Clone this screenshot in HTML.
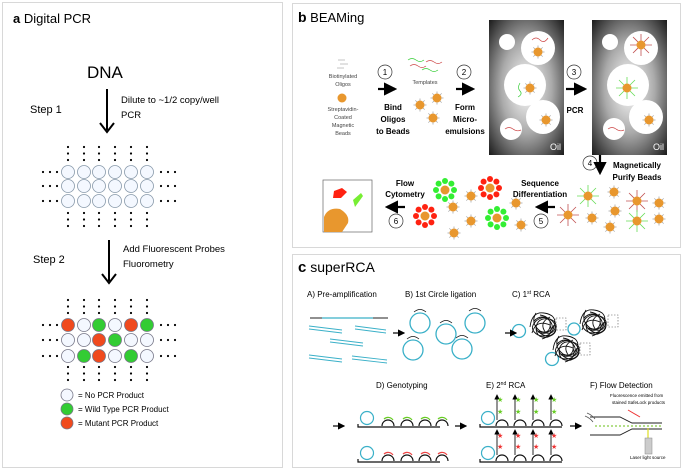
<!DOCTYPE html>
<html><head><meta charset="utf-8"><style>
html,body{margin:0;padding:0;background:#fff}
svg{display:block;font-family:"Liberation Sans",Arial,sans-serif}
</style></head><body>
<svg width="685" height="471" viewBox="0 0 685 471" xmlns="http://www.w3.org/2000/svg">
<defs>
<radialGradient id="oil" cx="0.5" cy="0.5" r="0.75">
<stop offset="0" stop-color="#fff"/><stop offset="0.45" stop-color="#aaa"/><stop offset="1" stop-color="#0a0a0a"/>
</radialGradient>
<marker id="ah" markerWidth="6" markerHeight="6" refX="5" refY="3" orient="auto"><path d="M0,0 L6,3 L0,6z" fill="#000"/></marker>
<g id="bead"><circle r="4.5" fill="#e8972e"/><g stroke="#888" stroke-width="0.6"><line x1="0" y1="-4.5" x2="0" y2="-6.5"/><line x1="0" y1="4.5" x2="0" y2="6.5"/><line x1="-4.5" y1="0" x2="-6.5" y2="0"/><line x1="4.5" y1="0" x2="6.5" y2="0"/><line x1="3.2" y1="3.2" x2="4.6" y2="4.6"/><line x1="-3.2" y1="-3.2" x2="-4.6" y2="-4.6"/><line x1="3.2" y1="-3.2" x2="4.6" y2="-4.6"/><line x1="-3.2" y1="3.2" x2="-4.6" y2="4.6"/></g></g>
<g id="rbead"><g stroke="#c05050" stroke-width="0.8"><line x1="-11" y1="0" x2="11" y2="0"/><line x1="0" y1="-11" x2="0" y2="11"/><line x1="-8" y1="-8" x2="8" y2="8"/><line x1="-8" y1="8" x2="8" y2="-8"/></g><circle r="4.5" fill="#e8972e"/></g>
<g id="gbead"><g stroke="#66dd55" stroke-width="0.8"><line x1="-11" y1="0" x2="11" y2="0"/><line x1="0" y1="-11" x2="0" y2="11"/><line x1="-8" y1="-8" x2="8" y2="8"/><line x1="-8" y1="8" x2="8" y2="-8"/></g><circle r="4.5" fill="#e8972e"/></g>
<g id="rflow"><circle cx="0" cy="-9" r="3" fill="#f21"/><circle cx="6.4" cy="-6.4" r="3" fill="#f21"/><circle cx="9" cy="0" r="3" fill="#f21"/><circle cx="6.4" cy="6.4" r="3" fill="#f21"/><circle cx="0" cy="9" r="3" fill="#f21"/><circle cx="-6.4" cy="6.4" r="3" fill="#f21"/><circle cx="-9" cy="0" r="3" fill="#f21"/><circle cx="-6.4" cy="-6.4" r="3" fill="#f21"/><circle r="4.5" fill="#e8972e"/></g>
<g id="gflow"><circle cx="0" cy="-9" r="3" fill="#3e3"/><circle cx="6.4" cy="-6.4" r="3" fill="#3e3"/><circle cx="9" cy="0" r="3" fill="#3e3"/><circle cx="6.4" cy="6.4" r="3" fill="#3e3"/><circle cx="0" cy="9" r="3" fill="#3e3"/><circle cx="-6.4" cy="6.4" r="3" fill="#3e3"/><circle cx="-9" cy="0" r="3" fill="#3e3"/><circle cx="-6.4" cy="-6.4" r="3" fill="#3e3"/><circle r="4.5" fill="#e8972e"/></g>
<g id="dcol" fill="#000"><circle cy="0" r="1.1"/><circle cy="6.5" r="1.1"/><circle cy="13" r="1.1"/></g>
<g id="drow" fill="#000"><circle cx="0" r="1.1"/><circle cx="7" r="1.1"/><circle cx="14" r="1.1"/></g>
<g id="tangle" fill="none" stroke="#111" stroke-width="0.9">
<path d="M-14,0 q2,-16 14,-14 q14,2 10,14 q-4,12 -16,8 q-10,-6 -2,-14 q10,-8 18,2 q6,10 -6,14 q-12,2 -12,-10 q2,-10 14,-8 q10,4 4,14 q-6,6 -14,0"/>
<path d="M-10,-6 q8,-8 16,0 q6,8 -4,12 q-10,2 -10,-8 M-4,-12 q12,2 10,12 q-2,8 -12,4 M-12,6 q4,-14 18,-8 q4,10 -8,14"/>
<path d="M-8,-14 q-6,10 4,18 q10,4 14,-6 M6,-10 q-12,6 -4,16 q8,2 10,-8"/>
</g>
</defs>

<!-- Panel borders -->
<rect x="2.5" y="2.5" width="280" height="465" fill="#fff" stroke="#d8d8d8"/>
<rect x="292.5" y="3.5" width="388" height="244" fill="#fff" stroke="#d8d8d8"/>
<rect x="292.5" y="254.5" width="388" height="213" fill="#fff" stroke="#d8d8d8"/>

<!-- Panel a -->
<text x="13" y="23" font-size="13"><tspan font-weight="bold">a</tspan> Digital PCR</text>
<text x="87" y="78" font-size="17">DNA</text>
<text x="30" y="113" font-size="11">Step 1</text>
<text x="121" y="103" font-size="9.5">Dilute to ~1/2 copy/well</text>
<text x="121" y="118" font-size="9.5">PCR</text>
<line x1="107" y1="89" x2="107" y2="130" stroke="#000" stroke-width="2"/>
<path d="M100,123 L107,132 L114,123" fill="none" stroke="#000" stroke-width="2"/>
<g>
<use href="#dcol" x="68" y="147"/><use href="#dcol" x="84" y="147"/><use href="#dcol" x="99" y="147"/><use href="#dcol" x="115" y="147"/><use href="#dcol" x="131" y="147"/><use href="#dcol" x="147" y="147"/>
<use href="#dcol" x="68" y="213"/><use href="#dcol" x="84" y="213"/><use href="#dcol" x="99" y="213"/><use href="#dcol" x="115" y="213"/><use href="#dcol" x="131" y="213"/><use href="#dcol" x="147" y="213"/>
<use href="#drow" x="43" y="172"/><use href="#drow" x="43" y="186"/><use href="#drow" x="43" y="201"/>
<use href="#drow" x="161" y="172"/><use href="#drow" x="161" y="186"/><use href="#drow" x="161" y="201"/>
<g fill="#f4f8ff" stroke="#8899aa" stroke-width="0.8">
<circle cx="68" cy="172" r="6.5"/><circle cx="84" cy="172" r="6.5"/><circle cx="99" cy="172" r="6.5"/><circle cx="115" cy="172" r="6.5"/><circle cx="131" cy="172" r="6.5"/><circle cx="147" cy="172" r="6.5"/>
<circle cx="68" cy="186" r="6.5"/><circle cx="84" cy="186" r="6.5"/><circle cx="99" cy="186" r="6.5"/><circle cx="115" cy="186" r="6.5"/><circle cx="131" cy="186" r="6.5"/><circle cx="147" cy="186" r="6.5"/>
<circle cx="68" cy="201" r="6.5"/><circle cx="84" cy="201" r="6.5"/><circle cx="99" cy="201" r="6.5"/><circle cx="115" cy="201" r="6.5"/><circle cx="131" cy="201" r="6.5"/><circle cx="147" cy="201" r="6.5"/>
</g></g>
<text x="33" y="263" font-size="11">Step 2</text>
<text x="123" y="252" font-size="9.5">Add Fluorescent Probes</text>
<text x="123" y="267" font-size="9.5">Fluorometry</text>
<line x1="109" y1="240" x2="109" y2="281" stroke="#000" stroke-width="2"/>
<path d="M102,274 L109,283 L116,274" fill="none" stroke="#000" stroke-width="2"/>
<g>
<use href="#dcol" x="68" y="300"/><use href="#dcol" x="84" y="300"/><use href="#dcol" x="99" y="300"/><use href="#dcol" x="115" y="300"/><use href="#dcol" x="131" y="300"/><use href="#dcol" x="147" y="300"/>
<use href="#dcol" x="68" y="367"/><use href="#dcol" x="84" y="367"/><use href="#dcol" x="99" y="367"/><use href="#dcol" x="115" y="367"/><use href="#dcol" x="131" y="367"/><use href="#dcol" x="147" y="367"/>
<use href="#drow" x="43" y="325"/><use href="#drow" x="43" y="340"/><use href="#drow" x="43" y="356"/>
<use href="#drow" x="161" y="325"/><use href="#drow" x="161" y="340"/><use href="#drow" x="161" y="356"/>
<g stroke="#778" stroke-width="0.8">
<circle cx="68" cy="325" r="6.5" fill="#f04a1e"/><circle cx="84" cy="325" r="6.5" fill="#f4f8ff"/><circle cx="99" cy="325" r="6.5" fill="#3c3"/><circle cx="115" cy="325" r="6.5" fill="#f4f8ff"/><circle cx="131" cy="325" r="6.5" fill="#f04a1e"/><circle cx="147" cy="325" r="6.5" fill="#3c3"/>
<circle cx="68" cy="340" r="6.5" fill="#f4f8ff"/><circle cx="84" cy="340" r="6.5" fill="#f4f8ff"/><circle cx="99" cy="340" r="6.5" fill="#f04a1e"/><circle cx="115" cy="340" r="6.5" fill="#3c3"/><circle cx="131" cy="340" r="6.5" fill="#f4f8ff"/><circle cx="147" cy="340" r="6.5" fill="#f4f8ff"/>
<circle cx="68" cy="356" r="6.5" fill="#f4f8ff"/><circle cx="84" cy="356" r="6.5" fill="#3c3"/><circle cx="99" cy="356" r="6.5" fill="#f04a1e"/><circle cx="115" cy="356" r="6.5" fill="#f4f8ff"/><circle cx="131" cy="356" r="6.5" fill="#3c3"/><circle cx="147" cy="356" r="6.5" fill="#f4f8ff"/>
<circle cx="67" cy="395" r="6" fill="#f4f8ff"/><circle cx="67" cy="409" r="6" fill="#3c3"/><circle cx="67" cy="423" r="6" fill="#f04a1e"/>
</g></g>
<text x="78" y="398" font-size="8">= No PCR Product</text>
<text x="78" y="412" font-size="8">= Wild Type PCR Product</text>
<text x="78" y="426" font-size="8">= Mutant PCR Product</text>

<!-- Panel b -->
<text x="298" y="22" font-size="13"><tspan font-weight="bold" font-size="14">b</tspan> BEAMing</text>
<rect x="489" y="20" width="75" height="135" fill="url(#oil)"/>
<rect x="592" y="20" width="75" height="135" fill="url(#oil)"/>
<g fill="#fff">
<circle cx="507" cy="42" r="8"/><circle cx="538" cy="48" r="17"/><circle cx="525" cy="85" r="21"/><circle cx="543" cy="117" r="17"/><circle cx="511" cy="129" r="11"/>
<circle cx="610" cy="42" r="8"/><circle cx="641" cy="48" r="17"/><circle cx="628" cy="85" r="21"/><circle cx="646" cy="117" r="17"/><circle cx="614" cy="129" r="11"/>
</g>
<text x="550" y="150" font-size="9" fill="#fff">Oil</text>
<text x="653" y="150" font-size="9" fill="#fff">Oil</text>
<use href="#bead" x="538" y="52"/><use href="#bead" x="530" y="88"/><use href="#bead" x="546" y="120"/>
<path d="M532,40 q4,-4 8,0 t8,-2" stroke="#c44" fill="none" stroke-width="0.7"/>
<path d="M520,83 q-3,5 0,8 t-2,6" stroke="#3c3" fill="none" stroke-width="0.7"/>
<path d="M505,129 q4,-3 8,0 t8,1" stroke="#c44" fill="none" stroke-width="0.7"/>
<use href="#rbead" x="641" y="45"/><use href="#gbead" x="627" y="88"/><use href="#bead" x="649" y="120"/>
<path d="M608,129 q4,-3 8,0 t8,1" stroke="#c44" fill="none" stroke-width="0.7"/>
<g font-size="5.5" fill="#444" text-anchor="middle">
<text x="343" y="78">Biotinylated</text><text x="343" y="86">Oligos</text>
<text x="343" y="111">Streptavidin-</text><text x="343" y="119">Coated</text><text x="343" y="127">Magnetic</text><text x="343" y="135">Beads</text>
<text x="425" y="84">Templates</text>
</g>
<g stroke="#888" stroke-width="0.5"><line x1="338" y1="60" x2="345" y2="60"/><line x1="340" y1="64" x2="348" y2="64"/><line x1="337" y1="68" x2="344" y2="68"/></g>
<circle cx="342" cy="98" r="4.5" fill="#e8972e"/>
<g fill="none" stroke-width="0.7">
<path d="M408,60 q4,-3 8,0 t8,0" stroke="#3c3"/><path d="M426,62 q4,-3 8,0 t8,0" stroke="#c44"/>
<path d="M410,66 q4,-3 8,0 t8,0" stroke="#c44"/><path d="M422,70 q4,-3 8,0 t8,0" stroke="#3c3"/>
</g>
<use href="#bead" x="420" y="105"/><use href="#bead" x="437" y="98"/><use href="#bead" x="433" y="118"/>
<g fill="#fff" stroke="#333" stroke-width="0.7" font-size="8">
<circle cx="385" cy="72" r="7"/><circle cx="464" cy="72" r="7"/><circle cx="574" cy="72" r="7"/><circle cx="590" cy="163" r="7"/><circle cx="541" cy="221" r="7"/><circle cx="396" cy="221" r="7"/>
</g>
<g font-size="8" text-anchor="middle"><text x="385" y="75">1</text><text x="464" y="75">2</text><text x="574" y="75">3</text><text x="590" y="166">4</text><text x="541" y="224">5</text><text x="396" y="224">6</text></g>
<g stroke="#000" stroke-width="2.2" marker-end="url(#ah)">
<line x1="378" y1="89" x2="395" y2="89"/><line x1="456" y1="89" x2="473" y2="89"/><line x1="566" y1="89" x2="585" y2="89"/>
<line x1="600" y1="155" x2="600" y2="173"/><line x1="555" y1="207" x2="537" y2="207"/><line x1="405" y1="207" x2="387" y2="207"/>
</g>
<g font-size="8" font-weight="bold" text-anchor="middle">
<text x="393" y="110">Bind</text><text x="393" y="122">Oligos</text><text x="393" y="134">to Beads</text>
<text x="465" y="110">Form</text><text x="465" y="122">Micro-</text><text x="465" y="134">emulsions</text>
<text x="575" y="113">PCR</text>
<text x="637" y="168">Magnetically</text><text x="637" y="180">Purify Beads</text>
<text x="540" y="186">Sequence</text><text x="540" y="197">Differentiation</text>
<text x="405" y="186">Flow</text><text x="405" y="197">Cytometry</text>
</g>
<use href="#gbead" x="588" y="196"/><use href="#bead" x="614" y="192"/><use href="#rbead" x="637" y="201"/><use href="#bead" x="659" y="203"/>
<use href="#rbead" x="568" y="215"/><use href="#bead" x="592" y="218"/><use href="#bead" x="615" y="211"/><use href="#gbead" x="637" y="221"/><use href="#bead" x="659" y="219"/><use href="#bead" x="610" y="227"/>
<use href="#gflow" x="445" y="190"/><use href="#rflow" x="490" y="188"/><use href="#bead" x="471" y="196"/><use href="#bead" x="516" y="203"/>
<use href="#rflow" x="425" y="216"/><use href="#bead" x="471" y="221"/><use href="#bead" x="453" y="207"/><use href="#gflow" x="497" y="218"/><use href="#bead" x="521" y="225"/><use href="#bead" x="454" y="233"/>
<rect x="323" y="180" width="49" height="52" fill="#fff" stroke="#666" stroke-width="0.7"/>
<path d="M334,191 l8,-3 l5,4 l-6,6 l-8,0z" fill="#f21"/>
<path d="M353,200 l8,-7 l2,3 l-8,11z" fill="#7e3"/>
<path d="M324,217 q4,-10 16,-8 q10,6 8,14 l-6,9 l-18,0z" fill="#e8972e"/>

<!-- Panel c -->
<text x="298" y="272" font-size="14"><tspan font-weight="bold" font-size="15">c</tspan> superRCA</text>
<g font-size="8">
<text x="307" y="297">A) Pre-amplification</text>
<text x="405" y="297">B) 1st Circle ligation</text>
<text x="512" y="297">C) 1<tspan font-size="5" dy="-3">st</tspan><tspan dy="3"> RCA</tspan></text>
<text x="376" y="388">D) Genotyping</text>
<text x="486" y="388">E) 2<tspan font-size="5" dy="-3">nd</tspan><tspan dy="3"> RCA</tspan></text>
<text x="590" y="388">F) Flow Detection</text>
</g>
<line x1="310" y1="318" x2="388" y2="318" stroke="#222" stroke-width="1"/>
<line x1="322" y1="318" x2="373" y2="318" stroke="#3ab0c8" stroke-width="1.3"/>
<g stroke="#3ab0c8" stroke-width="0.9" fill="none">
<path d="M309,326 l33,4 M309,329 l33,4"/><path d="M355,326 l31,4 M355,329 l31,4"/><path d="M330,339 l33,4 M330,342 l33,4"/>
<path d="M309,355 l33,4 M309,358 l33,4"/><path d="M352,356 l35,4 M352,359 l35,4"/>
</g>
<g stroke="#3ab0c8" stroke-width="1.3" fill="none">
<circle cx="420" cy="323" r="10"/><circle cx="446" cy="334" r="10"/><circle cx="475" cy="323" r="10"/><circle cx="413" cy="350" r="10"/><circle cx="462" cy="349" r="10"/>
<circle cx="519" cy="331" r="6.5"/><circle cx="574" cy="329" r="6"/><circle cx="552" cy="359" r="6.5"/>
</g>
<g stroke="#111" stroke-width="0.8" fill="none">
<path d="M414,312 q6,-5 12,0 M469,311 q6,-5 12,0 M407,339 q6,-5 12,0 M456,338 q6,-5 12,0 M440,323 q6,-5 12,0"/>
</g>
<use href="#tangle" x="544" y="327"/><use href="#tangle" x="594" y="324"/><use href="#tangle" x="567" y="350"/>
<g stroke="#555" stroke-width="0.6" stroke-dasharray="1.5,1.5" fill="none">
<rect x="556" y="318" width="10" height="12"/><rect x="608" y="315" width="10" height="12"/><rect x="580" y="343" width="10" height="12"/>
</g>
<g stroke="#000" stroke-width="1.2" marker-end="url(#ah)">
<line x1="393" y1="333" x2="404" y2="333"/><line x1="505" y1="333" x2="516" y2="333"/>
<line x1="333" y1="426" x2="344" y2="426"/><line x1="455" y1="426" x2="466" y2="426"/><line x1="570" y1="426" x2="581" y2="426"/>
</g>
<g stroke="#111" stroke-width="1.2" fill="none">
<path d="M358,424 l0,3 l82,0"/><path d="M358,459 l0,3 l82,0"/>
<path d="M480,424 l0,3 l82,0"/><path d="M480,459 l0,3 l82,0"/>
</g>
<g stroke="#3ab0c8" stroke-width="1.2" fill="none">
<circle cx="367" cy="418" r="6.5"/><circle cx="367" cy="453" r="6.5"/><circle cx="488" cy="418" r="6.5"/><circle cx="488" cy="453" r="6.5"/>
</g>
<g fill="none" stroke-width="1.2">
<path d="M382,426 a6,6 0 1 1 12,0" stroke="#111"/><path d="M401,426 a6,6 0 1 1 12,0" stroke="#111"/><path d="M419,426 a6,6 0 1 1 12,0" stroke="#111"/><path d="M436,426 a6,6 0 1 1 12,0" stroke="#111"/>
<path d="M384,419 a6,6 0 0 1 9,1 M403,419 a6,6 0 0 1 9,1 M421,419 a6,6 0 0 1 9,1 M438,419 a6,6 0 0 1 9,1" stroke="#6c2"/>
<path d="M382,461 a6,6 0 1 1 12,0" stroke="#111"/><path d="M401,461 a6,6 0 1 1 12,0" stroke="#111"/><path d="M419,461 a6,6 0 1 1 12,0" stroke="#111"/><path d="M436,461 a6,6 0 1 1 12,0" stroke="#111"/>
<path d="M384,454 a6,6 0 0 1 9,1 M403,454 a6,6 0 0 1 9,1 M421,454 a6,6 0 0 1 9,1 M438,454 a6,6 0 0 1 9,1" stroke="#e44"/>
<path d="M496,426 a6,6 0 1 1 12,0 M514,426 a6,6 0 1 1 12,0 M532,426 a6,6 0 1 1 12,0 M550,426 a6,6 0 1 1 12,0" stroke="#111"/>
<path d="M496,461 a6,6 0 1 1 12,0 M514,461 a6,6 0 1 1 12,0 M532,461 a6,6 0 1 1 12,0 M550,461 a6,6 0 1 1 12,0" stroke="#111"/>
</g>
<g stroke="#111" stroke-width="0.9" marker-end="url(#ah)">
<line x1="497" y1="420" x2="497" y2="395"/><line x1="515" y1="420" x2="515" y2="395"/><line x1="533" y1="420" x2="533" y2="395"/><line x1="551" y1="420" x2="551" y2="395"/>
<line x1="497" y1="455" x2="497" y2="430"/><line x1="515" y1="455" x2="515" y2="430"/><line x1="533" y1="455" x2="533" y2="430"/><line x1="551" y1="455" x2="551" y2="430"/>
</g>
<g font-size="7" fill="#6c2"><text x="497" y="402">★</text><text x="497" y="414">★</text><text x="515" y="402">★</text><text x="515" y="414">★</text><text x="533" y="402">★</text><text x="533" y="414">★</text><text x="551" y="402">★</text><text x="551" y="414">★</text></g>
<g font-size="7" fill="#e33"><text x="497" y="438">★</text><text x="497" y="449">★</text><text x="515" y="438">★</text><text x="515" y="449">★</text><text x="533" y="438">★</text><text x="533" y="449">★</text><text x="551" y="438">★</text><text x="551" y="449">★</text></g>
<path d="M590,417 l30,0 l12,6 l30,0 M590,435 l30,0 l12,-6 l30,0" stroke="#222" fill="none" stroke-width="0.9"/>
<path d="M587,413 q5,2 8,6 M585,416 q5,2 8,6" stroke="#555" fill="none" stroke-width="0.8"/>
<line x1="595" y1="426" x2="662" y2="426" stroke="#8c4" stroke-width="1.2" stroke-dasharray="2,2"/>
<line x1="648" y1="438" x2="648" y2="428" stroke="#dd2" stroke-width="1.2"/>
<line x1="640" y1="417" x2="628" y2="410" stroke="#e33" stroke-width="1"/>
<rect x="645" y="438" width="7" height="16" fill="#ccc" stroke="#888" stroke-width="0.5"/>
<text x="610" y="397" font-size="4.5">Fluorescence emitted from</text>
<text x="612" y="404" font-size="4.5">stained SafeLock products</text>
<text x="630" y="459" font-size="4.5">Laser light source</text>
</svg>
</body></html>
